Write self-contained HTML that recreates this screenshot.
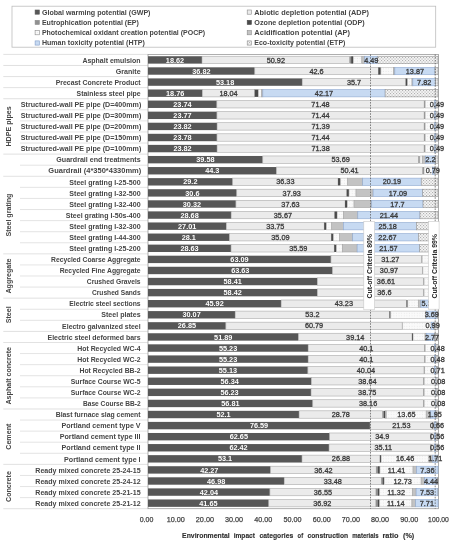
<!DOCTYPE html>
<html lang="en"><head><meta charset="utf-8"><title>Environmental impact categories of construction materials</title>
<style>html,body{margin:0;padding:0;background:#fff}svg{display:block}text{font-family:"Liberation Sans",sans-serif}.b{font-weight:bold}</style></head><body>
<svg width="454" height="550" viewBox="0 0 454 550">
<defs><pattern id="etp" width="3" height="3" patternUnits="userSpaceOnUse"><rect width="3" height="3" fill="#f4f4f4"/><rect x="0" y="0" width="1.1" height="1.1" fill="#b0b0b0"/><rect x="1.5" y="1.5" width="1.1" height="1.1" fill="#b0b0b0"/></pattern><pattern id="pocp" width="2.6" height="2.6" patternUnits="userSpaceOnUse"><rect width="2.6" height="2.6" fill="#fafafa"/><rect x="0.8" y="0.8" width="0.9" height="0.9" fill="#e8e8e8"/></pattern></defs>
<rect width="454" height="550" fill="#fff"/>
<rect x="12" y="6.2" width="423.7" height="41" fill="#fff" stroke="#bdbdbd" stroke-width="0.8"/>
<rect x="35.1" y="10.00" width="4.2" height="4.2" fill="#575757" stroke="#575757" stroke-width="0.6"/>
<text class="b" x="41.9" y="14.55" font-size="7.8" fill="#454545" textLength="108.6" lengthAdjust="spacingAndGlyphs">Global warming potential (GWP)</text>
<rect x="247.2" y="10.00" width="4.2" height="4.2" fill="#ebebeb" stroke="#8c8c8c" stroke-width="0.6"/>
<text class="b" x="254.3" y="14.55" font-size="7.8" fill="#454545" textLength="114.7" lengthAdjust="spacingAndGlyphs">Abiotic depletion potential (ADP)</text>
<rect x="35.1" y="20.30" width="4.2" height="4.2" fill="#909090" stroke="#8c8c8c" stroke-width="0.6"/>
<text class="b" x="41.9" y="24.85" font-size="7.8" fill="#454545" textLength="97" lengthAdjust="spacingAndGlyphs">Eutrophication potential (EP)</text>
<rect x="247.2" y="20.30" width="4.2" height="4.2" fill="#4a4a4a" stroke="#4a4a4a" stroke-width="0.6"/>
<text class="b" x="254.3" y="24.85" font-size="7.8" fill="#454545" textLength="110.4" lengthAdjust="spacingAndGlyphs">Ozone depletion potential (ODP)</text>
<rect x="35.1" y="30.60" width="4.2" height="4.2" fill="url(#pocp)" stroke="#8c8c8c" stroke-width="0.6"/>
<text class="b" x="41.9" y="35.15" font-size="7.8" fill="#454545" textLength="163.3" lengthAdjust="spacingAndGlyphs">Photochemical oxidant creation potential (POCP)</text>
<rect x="247.2" y="30.60" width="4.2" height="4.2" fill="#c3c3c3" stroke="#8c8c8c" stroke-width="0.6"/>
<text class="b" x="254.3" y="35.15" font-size="7.8" fill="#454545" textLength="95.8" lengthAdjust="spacingAndGlyphs">Acidification potential (AP)</text>
<rect x="35.1" y="40.90" width="4.2" height="4.2" fill="#c7daf2" stroke="#7f9cc9" stroke-width="0.6"/>
<text class="b" x="41.9" y="45.45" font-size="7.8" fill="#454545" textLength="103" lengthAdjust="spacingAndGlyphs">Human toxicity potential (HTP)</text>
<rect x="247.2" y="40.90" width="4.2" height="4.2" fill="url(#etp)" stroke="#8c8c8c" stroke-width="0.6"/>
<text class="b" x="254.3" y="45.45" font-size="7.8" fill="#454545" textLength="91.1" lengthAdjust="spacingAndGlyphs">Eco-toxicity potential (ETP)</text>
<line x1="3.3" y1="54.40" x2="148" y2="54.40" stroke="#d4d4d4" stroke-width="0.7"/>
<line x1="3.3" y1="65.48" x2="148" y2="65.48" stroke="#d4d4d4" stroke-width="0.7"/>
<line x1="3.3" y1="76.56" x2="148" y2="76.56" stroke="#d4d4d4" stroke-width="0.7"/>
<line x1="3.3" y1="87.64" x2="148" y2="87.64" stroke="#d4d4d4" stroke-width="0.7"/>
<line x1="3.3" y1="98.72" x2="148" y2="98.72" stroke="#d4d4d4" stroke-width="0.7"/>
<line x1="20" y1="109.80" x2="148" y2="109.80" stroke="#d9d9d9" stroke-width="0.7"/>
<line x1="20" y1="120.88" x2="148" y2="120.88" stroke="#d9d9d9" stroke-width="0.7"/>
<line x1="20" y1="131.96" x2="148" y2="131.96" stroke="#d9d9d9" stroke-width="0.7"/>
<line x1="20" y1="143.04" x2="148" y2="143.04" stroke="#d9d9d9" stroke-width="0.7"/>
<text class="b" transform="translate(11.2,146.54) rotate(-90)" font-size="7.8" fill="#454545" textLength="40.24" lengthAdjust="spacingAndGlyphs">HDPE pipes</text>
<line x1="3.3" y1="154.12" x2="148" y2="154.12" stroke="#d4d4d4" stroke-width="0.7"/>
<line x1="20" y1="165.20" x2="148" y2="165.20" stroke="#d9d9d9" stroke-width="0.7"/>
<line x1="3.3" y1="176.29" x2="148" y2="176.29" stroke="#d4d4d4" stroke-width="0.7"/>
<line x1="20" y1="187.37" x2="148" y2="187.37" stroke="#d9d9d9" stroke-width="0.7"/>
<line x1="20" y1="198.45" x2="148" y2="198.45" stroke="#d9d9d9" stroke-width="0.7"/>
<line x1="20" y1="209.53" x2="148" y2="209.53" stroke="#d9d9d9" stroke-width="0.7"/>
<line x1="20" y1="220.61" x2="148" y2="220.61" stroke="#d9d9d9" stroke-width="0.7"/>
<line x1="20" y1="231.69" x2="148" y2="231.69" stroke="#d9d9d9" stroke-width="0.7"/>
<line x1="20" y1="242.77" x2="148" y2="242.77" stroke="#d9d9d9" stroke-width="0.7"/>
<text class="b" transform="translate(11.2,236.57) rotate(-90)" font-size="7.8" fill="#454545" textLength="43.00" lengthAdjust="spacingAndGlyphs">Steel grating</text>
<line x1="3.3" y1="253.85" x2="148" y2="253.85" stroke="#d4d4d4" stroke-width="0.7"/>
<line x1="20" y1="264.93" x2="148" y2="264.93" stroke="#d9d9d9" stroke-width="0.7"/>
<line x1="20" y1="276.01" x2="148" y2="276.01" stroke="#d9d9d9" stroke-width="0.7"/>
<line x1="20" y1="287.09" x2="148" y2="287.09" stroke="#d9d9d9" stroke-width="0.7"/>
<text class="b" transform="translate(11.2,293.56) rotate(-90)" font-size="7.8" fill="#454545" textLength="35.11" lengthAdjust="spacingAndGlyphs">Aggregate</text>
<line x1="3.3" y1="298.17" x2="148" y2="298.17" stroke="#d4d4d4" stroke-width="0.7"/>
<line x1="20" y1="309.25" x2="148" y2="309.25" stroke="#d9d9d9" stroke-width="0.7"/>
<line x1="20" y1="320.33" x2="148" y2="320.33" stroke="#d9d9d9" stroke-width="0.7"/>
<text class="b" transform="translate(11.2,323.28) rotate(-90)" font-size="7.8" fill="#454545" textLength="16.97" lengthAdjust="spacingAndGlyphs">Steel</text>
<line x1="3.3" y1="331.41" x2="148" y2="331.41" stroke="#d4d4d4" stroke-width="0.7"/>
<line x1="3.3" y1="342.49" x2="148" y2="342.49" stroke="#d4d4d4" stroke-width="0.7"/>
<line x1="20" y1="353.57" x2="148" y2="353.57" stroke="#d9d9d9" stroke-width="0.7"/>
<line x1="20" y1="364.65" x2="148" y2="364.65" stroke="#d9d9d9" stroke-width="0.7"/>
<line x1="20" y1="375.73" x2="148" y2="375.73" stroke="#d9d9d9" stroke-width="0.7"/>
<line x1="20" y1="386.81" x2="148" y2="386.81" stroke="#d9d9d9" stroke-width="0.7"/>
<line x1="20" y1="397.90" x2="148" y2="397.90" stroke="#d9d9d9" stroke-width="0.7"/>
<text class="b" transform="translate(11.2,404.53) rotate(-90)" font-size="7.8" fill="#454545" textLength="57.60" lengthAdjust="spacingAndGlyphs">Asphalt concrete</text>
<line x1="3.3" y1="408.98" x2="148" y2="408.98" stroke="#d4d4d4" stroke-width="0.7"/>
<line x1="20" y1="420.06" x2="148" y2="420.06" stroke="#d9d9d9" stroke-width="0.7"/>
<line x1="20" y1="431.14" x2="148" y2="431.14" stroke="#d9d9d9" stroke-width="0.7"/>
<line x1="20" y1="442.22" x2="148" y2="442.22" stroke="#d9d9d9" stroke-width="0.7"/>
<line x1="20" y1="453.30" x2="148" y2="453.30" stroke="#d9d9d9" stroke-width="0.7"/>
<text class="b" transform="translate(11.2,449.70) rotate(-90)" font-size="7.8" fill="#454545" textLength="26.04" lengthAdjust="spacingAndGlyphs">Cement</text>
<line x1="3.3" y1="464.38" x2="148" y2="464.38" stroke="#d4d4d4" stroke-width="0.7"/>
<line x1="20" y1="475.46" x2="148" y2="475.46" stroke="#d9d9d9" stroke-width="0.7"/>
<line x1="20" y1="486.54" x2="148" y2="486.54" stroke="#d9d9d9" stroke-width="0.7"/>
<line x1="20" y1="497.62" x2="148" y2="497.62" stroke="#d9d9d9" stroke-width="0.7"/>
<text class="b" transform="translate(11.2,501.93) rotate(-90)" font-size="7.8" fill="#454545" textLength="30.77" lengthAdjust="spacingAndGlyphs">Concrete</text>
<line x1="3.3" y1="508.7" x2="148" y2="508.7" stroke="#d4d4d4" stroke-width="0.7"/>
<rect x="148" y="54.4" width="290.4" height="454.30" fill="none" stroke="#9a9a9a" stroke-width="0.8"/>
<text class="b" x="82.40" y="62.64" font-size="7.8" fill="#454545" textLength="58.20" lengthAdjust="spacingAndGlyphs">Asphalt emulsion</text>
<rect x="148.00" y="56.24" width="54.00" height="7.4" fill="#575757"/>
<rect x="202.00" y="56.24" width="147.67" height="7.4" fill="#ebebeb" stroke="#ababab" stroke-width="0.6"/>
<rect x="349.67" y="56.24" width="1.45" height="7.4" fill="#909090"/>
<rect x="351.12" y="56.24" width="2.32" height="7.4" fill="#4a4a4a"/>
<rect x="353.44" y="56.24" width="8.41" height="7.4" fill="url(#pocp)" stroke="#bcbcbc" stroke-width="0.6"/>
<rect x="361.85" y="56.24" width="2.90" height="7.4" fill="#c3c3c3" stroke="#a6a6a6" stroke-width="0.6"/>
<rect x="364.75" y="56.24" width="13.02" height="7.4" fill="#c7daf2" stroke="#8fa9d0" stroke-width="0.6"/>
<rect x="377.77" y="56.24" width="60.23" height="7.4" fill="url(#etp)" stroke="#959595" stroke-width="0.6"/>
<text class="b" x="115.80" y="73.72" font-size="7.8" fill="#454545" textLength="24.80" lengthAdjust="spacingAndGlyphs">Granite</text>
<rect x="148.00" y="67.32" width="106.78" height="7.4" fill="#575757"/>
<rect x="254.78" y="67.32" width="123.54" height="7.4" fill="#ebebeb" stroke="#ababab" stroke-width="0.6"/>
<rect x="378.32" y="67.32" width="2.61" height="7.4" fill="#4a4a4a"/>
<rect x="380.93" y="67.32" width="12.47" height="7.4" fill="url(#pocp)" stroke="#bcbcbc" stroke-width="0.6"/>
<rect x="393.40" y="67.32" width="1.45" height="7.4" fill="#c3c3c3" stroke="#a6a6a6" stroke-width="0.6"/>
<rect x="394.85" y="67.32" width="40.22" height="7.4" fill="#c7daf2" stroke="#8fa9d0" stroke-width="0.6"/>
<rect x="435.07" y="67.32" width="2.93" height="7.4" fill="url(#etp)" stroke="#959595" stroke-width="0.6"/>
<text class="b" x="55.70" y="84.80" font-size="7.8" fill="#454545" textLength="84.90" lengthAdjust="spacingAndGlyphs">Precast Concrete Product</text>
<rect x="148.00" y="78.40" width="154.22" height="7.4" fill="#575757"/>
<rect x="302.22" y="78.40" width="103.53" height="7.4" fill="#ebebeb" stroke="#ababab" stroke-width="0.6"/>
<rect x="405.75" y="78.40" width="1.89" height="7.4" fill="#4a4a4a"/>
<rect x="407.64" y="78.40" width="4.35" height="7.4" fill="url(#pocp)" stroke="#bcbcbc" stroke-width="0.6"/>
<rect x="411.99" y="78.40" width="0.87" height="7.4" fill="#c3c3c3" stroke="#a6a6a6" stroke-width="0.6"/>
<rect x="412.86" y="78.40" width="22.68" height="7.4" fill="#c7daf2" stroke="#8fa9d0" stroke-width="0.6"/>
<rect x="435.54" y="78.40" width="2.46" height="7.4" fill="url(#etp)" stroke="#959595" stroke-width="0.6"/>
<text class="b" x="76.60" y="95.88" font-size="7.8" fill="#454545" textLength="64.00" lengthAdjust="spacingAndGlyphs">Stainless steel pipe</text>
<rect x="148.00" y="89.48" width="54.40" height="7.4" fill="#575757"/>
<rect x="202.40" y="89.48" width="52.32" height="7.4" fill="#ebebeb" stroke="#ababab" stroke-width="0.6"/>
<rect x="254.72" y="89.48" width="3.77" height="7.4" fill="#4a4a4a"/>
<rect x="258.49" y="89.48" width="2.90" height="7.4" fill="url(#pocp)" stroke="#bcbcbc" stroke-width="0.6"/>
<rect x="261.39" y="89.48" width="1.45" height="7.4" fill="#c3c3c3" stroke="#a6a6a6" stroke-width="0.6"/>
<rect x="262.84" y="89.48" width="122.29" height="7.4" fill="#c7daf2" stroke="#8fa9d0" stroke-width="0.6"/>
<rect x="385.13" y="89.48" width="52.87" height="7.4" fill="url(#etp)" stroke="#959595" stroke-width="0.6"/>
<text class="b" x="20.80" y="106.96" font-size="7.8" fill="#454545" textLength="120.50" lengthAdjust="spacingAndGlyphs">Structured-wall PE pipe (D=400mm)</text>
<rect x="148.00" y="100.56" width="68.85" height="7.4" fill="#575757"/>
<rect x="216.85" y="100.56" width="207.29" height="7.4" fill="#ebebeb" stroke="#ababab" stroke-width="0.6"/>
<rect x="424.14" y="100.56" width="1.16" height="7.4" fill="#909090"/>
<rect x="425.30" y="100.56" width="9.43" height="7.4" fill="url(#pocp)" stroke="#bcbcbc" stroke-width="0.6"/>
<rect x="434.72" y="100.56" width="1.42" height="7.4" fill="#c7daf2" stroke="#8fa9d0" stroke-width="0.6"/>
<rect x="436.14" y="100.56" width="1.86" height="7.4" fill="url(#etp)" stroke="#959595" stroke-width="0.6"/>
<text class="b" x="20.80" y="118.04" font-size="7.8" fill="#454545" textLength="120.50" lengthAdjust="spacingAndGlyphs">Structured-wall PE pipe (D=300mm)</text>
<rect x="148.00" y="111.64" width="68.93" height="7.4" fill="#575757"/>
<rect x="216.93" y="111.64" width="207.18" height="7.4" fill="#ebebeb" stroke="#ababab" stroke-width="0.6"/>
<rect x="424.11" y="111.64" width="1.16" height="7.4" fill="#909090"/>
<rect x="425.27" y="111.64" width="9.43" height="7.4" fill="url(#pocp)" stroke="#bcbcbc" stroke-width="0.6"/>
<rect x="434.69" y="111.64" width="1.42" height="7.4" fill="#c7daf2" stroke="#8fa9d0" stroke-width="0.6"/>
<rect x="436.11" y="111.64" width="1.89" height="7.4" fill="url(#etp)" stroke="#959595" stroke-width="0.6"/>
<text class="b" x="20.80" y="129.12" font-size="7.8" fill="#454545" textLength="120.50" lengthAdjust="spacingAndGlyphs">Structured-wall PE pipe (D=200mm)</text>
<rect x="148.00" y="122.72" width="69.08" height="7.4" fill="#575757"/>
<rect x="217.08" y="122.72" width="207.03" height="7.4" fill="#ebebeb" stroke="#ababab" stroke-width="0.6"/>
<rect x="424.11" y="122.72" width="1.16" height="7.4" fill="#909090"/>
<rect x="425.27" y="122.72" width="9.43" height="7.4" fill="url(#pocp)" stroke="#bcbcbc" stroke-width="0.6"/>
<rect x="434.69" y="122.72" width="1.42" height="7.4" fill="#c7daf2" stroke="#8fa9d0" stroke-width="0.6"/>
<rect x="436.12" y="122.72" width="1.88" height="7.4" fill="url(#etp)" stroke="#959595" stroke-width="0.6"/>
<text class="b" x="20.80" y="140.20" font-size="7.8" fill="#454545" textLength="120.50" lengthAdjust="spacingAndGlyphs">Structured-wall PE pipe (D=150mm)</text>
<rect x="148.00" y="133.80" width="68.96" height="7.4" fill="#575757"/>
<rect x="216.96" y="133.80" width="207.18" height="7.4" fill="#ebebeb" stroke="#ababab" stroke-width="0.6"/>
<rect x="424.14" y="133.80" width="1.16" height="7.4" fill="#909090"/>
<rect x="425.30" y="133.80" width="9.43" height="7.4" fill="url(#pocp)" stroke="#bcbcbc" stroke-width="0.6"/>
<rect x="434.72" y="133.80" width="1.42" height="7.4" fill="#c7daf2" stroke="#8fa9d0" stroke-width="0.6"/>
<rect x="436.14" y="133.80" width="1.86" height="7.4" fill="url(#etp)" stroke="#959595" stroke-width="0.6"/>
<text class="b" x="20.80" y="151.28" font-size="7.8" fill="#454545" textLength="120.50" lengthAdjust="spacingAndGlyphs">Structured-wall PE pipe (D=100mm)</text>
<rect x="148.00" y="144.88" width="69.08" height="7.4" fill="#575757"/>
<rect x="217.08" y="144.88" width="207.00" height="7.4" fill="#ebebeb" stroke="#ababab" stroke-width="0.6"/>
<rect x="424.08" y="144.88" width="1.16" height="7.4" fill="#909090"/>
<rect x="425.24" y="144.88" width="9.43" height="7.4" fill="url(#pocp)" stroke="#bcbcbc" stroke-width="0.6"/>
<rect x="434.66" y="144.88" width="1.42" height="7.4" fill="#c7daf2" stroke="#8fa9d0" stroke-width="0.6"/>
<rect x="436.09" y="144.88" width="1.91" height="7.4" fill="url(#etp)" stroke="#959595" stroke-width="0.6"/>
<text class="b" x="56.30" y="162.36" font-size="7.8" fill="#454545" textLength="84.30" lengthAdjust="spacingAndGlyphs">Guardrail end treatments</text>
<rect x="148.00" y="155.96" width="114.78" height="7.4" fill="#575757"/>
<rect x="262.78" y="155.96" width="155.70" height="7.4" fill="#ebebeb" stroke="#ababab" stroke-width="0.6"/>
<rect x="418.48" y="155.96" width="1.45" height="7.4" fill="#909090"/>
<rect x="419.93" y="155.96" width="2.32" height="7.4" fill="url(#pocp)" stroke="#bcbcbc" stroke-width="0.6"/>
<rect x="422.25" y="155.96" width="3.33" height="7.4" fill="#c3c3c3" stroke="#a6a6a6" stroke-width="0.6"/>
<rect x="425.59" y="155.96" width="9.86" height="7.4" fill="#c7daf2" stroke="#8fa9d0" stroke-width="0.6"/>
<rect x="435.45" y="155.96" width="2.55" height="7.4" fill="url(#etp)" stroke="#959595" stroke-width="0.6"/>
<text class="b" x="48.30" y="173.45" font-size="7.8" fill="#454545" textLength="93.00" lengthAdjust="spacingAndGlyphs">Guardrail (4*350*4330mm)</text>
<rect x="148.00" y="167.05" width="128.47" height="7.4" fill="#575757"/>
<rect x="276.47" y="167.05" width="146.19" height="7.4" fill="#ebebeb" stroke="#ababab" stroke-width="0.6"/>
<rect x="422.66" y="167.05" width="1.45" height="7.4" fill="#909090"/>
<rect x="424.11" y="167.05" width="8.41" height="7.4" fill="url(#pocp)" stroke="#bcbcbc" stroke-width="0.6"/>
<rect x="432.52" y="167.05" width="2.29" height="7.4" fill="#c7daf2" stroke="#8fa9d0" stroke-width="0.6"/>
<rect x="434.81" y="167.05" width="3.19" height="7.4" fill="url(#etp)" stroke="#959595" stroke-width="0.6"/>
<text class="b" x="69.30" y="184.53" font-size="7.8" fill="#454545" textLength="71.30" lengthAdjust="spacingAndGlyphs">Steel grating I-25-500</text>
<rect x="148.00" y="178.13" width="84.68" height="7.4" fill="#575757"/>
<rect x="232.68" y="178.13" width="105.36" height="7.4" fill="#ebebeb" stroke="#ababab" stroke-width="0.6"/>
<rect x="338.04" y="178.13" width="2.61" height="7.4" fill="#4a4a4a"/>
<rect x="340.65" y="178.13" width="6.96" height="7.4" fill="url(#pocp)" stroke="#bcbcbc" stroke-width="0.6"/>
<rect x="347.61" y="178.13" width="15.08" height="7.4" fill="#c3c3c3" stroke="#a6a6a6" stroke-width="0.6"/>
<rect x="362.69" y="178.13" width="58.55" height="7.4" fill="#c7daf2" stroke="#8fa9d0" stroke-width="0.6"/>
<rect x="421.24" y="178.13" width="16.76" height="7.4" fill="url(#etp)" stroke="#959595" stroke-width="0.6"/>
<text class="b" x="69.30" y="195.61" font-size="7.8" fill="#454545" textLength="71.30" lengthAdjust="spacingAndGlyphs">Steel grating I-32-500</text>
<rect x="148.00" y="189.21" width="88.74" height="7.4" fill="#575757"/>
<rect x="236.74" y="189.21" width="110.00" height="7.4" fill="#ebebeb" stroke="#ababab" stroke-width="0.6"/>
<rect x="346.74" y="189.21" width="2.32" height="7.4" fill="#4a4a4a"/>
<rect x="349.06" y="189.21" width="6.96" height="7.4" fill="url(#pocp)" stroke="#bcbcbc" stroke-width="0.6"/>
<rect x="356.02" y="189.21" width="17.11" height="7.4" fill="#c3c3c3" stroke="#a6a6a6" stroke-width="0.6"/>
<rect x="373.13" y="189.21" width="49.56" height="7.4" fill="#c7daf2" stroke="#8fa9d0" stroke-width="0.6"/>
<rect x="422.69" y="189.21" width="15.31" height="7.4" fill="url(#etp)" stroke="#959595" stroke-width="0.6"/>
<text class="b" x="69.30" y="206.69" font-size="7.8" fill="#454545" textLength="71.30" lengthAdjust="spacingAndGlyphs">Steel grating I-32-400</text>
<rect x="148.00" y="200.29" width="87.93" height="7.4" fill="#575757"/>
<rect x="235.93" y="200.29" width="109.13" height="7.4" fill="#ebebeb" stroke="#ababab" stroke-width="0.6"/>
<rect x="345.06" y="200.29" width="2.32" height="7.4" fill="#4a4a4a"/>
<rect x="347.38" y="200.29" width="6.67" height="7.4" fill="url(#pocp)" stroke="#bcbcbc" stroke-width="0.6"/>
<rect x="354.04" y="200.29" width="17.69" height="7.4" fill="#c3c3c3" stroke="#a6a6a6" stroke-width="0.6"/>
<rect x="371.73" y="200.29" width="51.33" height="7.4" fill="#c7daf2" stroke="#8fa9d0" stroke-width="0.6"/>
<rect x="423.06" y="200.29" width="14.94" height="7.4" fill="url(#etp)" stroke="#959595" stroke-width="0.6"/>
<text class="b" x="65.80" y="217.77" font-size="7.8" fill="#454545" textLength="74.80" lengthAdjust="spacingAndGlyphs">Steel grating I-50s-400</text>
<rect x="148.00" y="211.37" width="83.17" height="7.4" fill="#575757"/>
<rect x="231.17" y="211.37" width="103.44" height="7.4" fill="#ebebeb" stroke="#ababab" stroke-width="0.6"/>
<rect x="334.62" y="211.37" width="2.61" height="7.4" fill="#4a4a4a"/>
<rect x="337.23" y="211.37" width="6.09" height="7.4" fill="url(#pocp)" stroke="#bcbcbc" stroke-width="0.6"/>
<rect x="343.31" y="211.37" width="14.50" height="7.4" fill="#c3c3c3" stroke="#a6a6a6" stroke-width="0.6"/>
<rect x="357.81" y="211.37" width="62.18" height="7.4" fill="#c7daf2" stroke="#8fa9d0" stroke-width="0.6"/>
<rect x="419.99" y="211.37" width="18.01" height="7.4" fill="url(#etp)" stroke="#959595" stroke-width="0.6"/>
<text class="b" x="69.30" y="228.85" font-size="7.8" fill="#454545" textLength="71.30" lengthAdjust="spacingAndGlyphs">Steel grating I-32-300</text>
<rect x="148.00" y="222.45" width="78.33" height="7.4" fill="#575757"/>
<rect x="226.33" y="222.45" width="97.88" height="7.4" fill="#ebebeb" stroke="#ababab" stroke-width="0.6"/>
<rect x="324.20" y="222.45" width="2.32" height="7.4" fill="#4a4a4a"/>
<rect x="326.52" y="222.45" width="5.22" height="7.4" fill="url(#pocp)" stroke="#bcbcbc" stroke-width="0.6"/>
<rect x="331.74" y="222.45" width="11.60" height="7.4" fill="#c3c3c3" stroke="#a6a6a6" stroke-width="0.6"/>
<rect x="343.34" y="222.45" width="73.02" height="7.4" fill="#c7daf2" stroke="#8fa9d0" stroke-width="0.6"/>
<rect x="416.37" y="222.45" width="21.63" height="7.4" fill="url(#etp)" stroke="#959595" stroke-width="0.6"/>
<text class="b" x="69.30" y="239.93" font-size="7.8" fill="#454545" textLength="71.30" lengthAdjust="spacingAndGlyphs">Steel grating I-44-300</text>
<rect x="148.00" y="233.53" width="81.49" height="7.4" fill="#575757"/>
<rect x="229.49" y="233.53" width="101.76" height="7.4" fill="#ebebeb" stroke="#ababab" stroke-width="0.6"/>
<rect x="331.25" y="233.53" width="2.32" height="7.4" fill="#4a4a4a"/>
<rect x="333.57" y="233.53" width="5.80" height="7.4" fill="url(#pocp)" stroke="#bcbcbc" stroke-width="0.6"/>
<rect x="339.37" y="233.53" width="13.34" height="7.4" fill="#c3c3c3" stroke="#a6a6a6" stroke-width="0.6"/>
<rect x="352.71" y="233.53" width="65.74" height="7.4" fill="#c7daf2" stroke="#8fa9d0" stroke-width="0.6"/>
<rect x="418.45" y="233.53" width="19.55" height="7.4" fill="url(#etp)" stroke="#959595" stroke-width="0.6"/>
<text class="b" x="69.30" y="251.01" font-size="7.8" fill="#454545" textLength="71.30" lengthAdjust="spacingAndGlyphs">Steel grating I-25-200</text>
<rect x="148.00" y="244.61" width="83.03" height="7.4" fill="#575757"/>
<rect x="231.03" y="244.61" width="103.21" height="7.4" fill="#ebebeb" stroke="#ababab" stroke-width="0.6"/>
<rect x="334.24" y="244.61" width="2.32" height="7.4" fill="#4a4a4a"/>
<rect x="336.56" y="244.61" width="5.80" height="7.4" fill="url(#pocp)" stroke="#bcbcbc" stroke-width="0.6"/>
<rect x="342.36" y="244.61" width="14.79" height="7.4" fill="#c3c3c3" stroke="#a6a6a6" stroke-width="0.6"/>
<rect x="357.15" y="244.61" width="62.55" height="7.4" fill="#c7daf2" stroke="#8fa9d0" stroke-width="0.6"/>
<rect x="419.70" y="244.61" width="18.30" height="7.4" fill="url(#etp)" stroke="#959595" stroke-width="0.6"/>
<text class="b" x="51.00" y="262.09" font-size="7.8" fill="#454545" textLength="89.60" lengthAdjust="spacingAndGlyphs">Recycled Coarse Aggregate</text>
<rect x="148.00" y="255.69" width="182.96" height="7.4" fill="#575757"/>
<rect x="330.96" y="255.69" width="90.68" height="7.4" fill="#ebebeb" stroke="#ababab" stroke-width="0.6"/>
<rect x="421.64" y="255.69" width="0.58" height="7.4" fill="#909090"/>
<rect x="422.22" y="255.69" width="12.76" height="7.4" fill="url(#pocp)" stroke="#bcbcbc" stroke-width="0.6"/>
<rect x="434.98" y="255.69" width="0.87" height="7.4" fill="#c7daf2" stroke="#8fa9d0" stroke-width="0.6"/>
<rect x="435.85" y="255.69" width="2.15" height="7.4" fill="url(#etp)" stroke="#959595" stroke-width="0.6"/>
<text class="b" x="59.70" y="273.17" font-size="7.8" fill="#454545" textLength="80.90" lengthAdjust="spacingAndGlyphs">Recycled Fine Aggregate</text>
<rect x="148.00" y="266.77" width="184.53" height="7.4" fill="#575757"/>
<rect x="332.53" y="266.77" width="89.81" height="7.4" fill="#ebebeb" stroke="#ababab" stroke-width="0.6"/>
<rect x="422.34" y="266.77" width="0.58" height="7.4" fill="#909090"/>
<rect x="422.92" y="266.77" width="12.18" height="7.4" fill="url(#pocp)" stroke="#bcbcbc" stroke-width="0.6"/>
<rect x="435.10" y="266.77" width="0.87" height="7.4" fill="#c7daf2" stroke="#8fa9d0" stroke-width="0.6"/>
<rect x="435.97" y="266.77" width="2.03" height="7.4" fill="url(#etp)" stroke="#959595" stroke-width="0.6"/>
<text class="b" x="86.80" y="284.25" font-size="7.8" fill="#454545" textLength="53.80" lengthAdjust="spacingAndGlyphs">Crushed Gravels</text>
<rect x="148.00" y="277.85" width="169.39" height="7.4" fill="#575757"/>
<rect x="317.39" y="277.85" width="106.17" height="7.4" fill="#ebebeb" stroke="#ababab" stroke-width="0.6"/>
<rect x="423.56" y="277.85" width="0.58" height="7.4" fill="#909090"/>
<rect x="424.14" y="277.85" width="11.02" height="7.4" fill="url(#pocp)" stroke="#bcbcbc" stroke-width="0.6"/>
<rect x="435.16" y="277.85" width="0.87" height="7.4" fill="#c7daf2" stroke="#8fa9d0" stroke-width="0.6"/>
<rect x="436.03" y="277.85" width="1.97" height="7.4" fill="url(#etp)" stroke="#959595" stroke-width="0.6"/>
<text class="b" x="92.00" y="295.33" font-size="7.8" fill="#454545" textLength="48.60" lengthAdjust="spacingAndGlyphs">Crushed Sands</text>
<rect x="148.00" y="288.93" width="169.42" height="7.4" fill="#575757"/>
<rect x="317.42" y="288.93" width="106.14" height="7.4" fill="#ebebeb" stroke="#ababab" stroke-width="0.6"/>
<rect x="423.56" y="288.93" width="0.58" height="7.4" fill="#909090"/>
<rect x="424.14" y="288.93" width="11.02" height="7.4" fill="url(#pocp)" stroke="#bcbcbc" stroke-width="0.6"/>
<rect x="435.16" y="288.93" width="0.87" height="7.4" fill="#c7daf2" stroke="#8fa9d0" stroke-width="0.6"/>
<rect x="436.03" y="288.93" width="1.97" height="7.4" fill="url(#etp)" stroke="#959595" stroke-width="0.6"/>
<text class="b" x="69.30" y="306.41" font-size="7.8" fill="#454545" textLength="71.30" lengthAdjust="spacingAndGlyphs">Electric steel sections</text>
<rect x="148.00" y="300.01" width="133.17" height="7.4" fill="#575757"/>
<rect x="281.17" y="300.01" width="125.37" height="7.4" fill="#ebebeb" stroke="#ababab" stroke-width="0.6"/>
<rect x="406.54" y="300.01" width="1.31" height="7.4" fill="#4a4a4a"/>
<rect x="407.84" y="300.01" width="10.73" height="7.4" fill="url(#pocp)" stroke="#bcbcbc" stroke-width="0.6"/>
<rect x="418.57" y="300.01" width="2.32" height="7.4" fill="#c3c3c3" stroke="#a6a6a6" stroke-width="0.6"/>
<rect x="420.89" y="300.01" width="15.51" height="7.4" fill="#c7daf2" stroke="#8fa9d0" stroke-width="0.6"/>
<rect x="436.40" y="300.01" width="1.60" height="7.4" fill="url(#etp)" stroke="#959595" stroke-width="0.6"/>
<text class="b" x="101.30" y="317.49" font-size="7.8" fill="#454545" textLength="39.30" lengthAdjust="spacingAndGlyphs">Steel plates</text>
<rect x="148.00" y="311.09" width="87.20" height="7.4" fill="#575757"/>
<rect x="235.20" y="311.09" width="154.28" height="7.4" fill="#ebebeb" stroke="#ababab" stroke-width="0.6"/>
<rect x="389.48" y="311.09" width="1.30" height="7.4" fill="#4a4a4a"/>
<rect x="390.79" y="311.09" width="34.51" height="7.4" fill="url(#pocp)" stroke="#bcbcbc" stroke-width="0.6"/>
<rect x="425.30" y="311.09" width="1.16" height="7.4" fill="#c3c3c3" stroke="#a6a6a6" stroke-width="0.6"/>
<rect x="426.46" y="311.09" width="10.70" height="7.4" fill="#c7daf2" stroke="#8fa9d0" stroke-width="0.6"/>
<rect x="437.16" y="311.09" width="0.84" height="7.4" fill="url(#etp)" stroke="#959595" stroke-width="0.6"/>
<text class="b" x="62.10" y="328.57" font-size="7.8" fill="#454545" textLength="78.50" lengthAdjust="spacingAndGlyphs">Electro galvanized steel</text>
<rect x="148.00" y="322.17" width="77.87" height="7.4" fill="#575757"/>
<rect x="225.87" y="322.17" width="176.29" height="7.4" fill="#ebebeb" stroke="#ababab" stroke-width="0.6"/>
<rect x="402.16" y="322.17" width="0.58" height="7.4" fill="#909090"/>
<rect x="402.74" y="322.17" width="28.42" height="7.4" fill="url(#pocp)" stroke="#bcbcbc" stroke-width="0.6"/>
<rect x="431.16" y="322.17" width="2.87" height="7.4" fill="#c7daf2" stroke="#8fa9d0" stroke-width="0.6"/>
<rect x="434.03" y="322.17" width="3.97" height="7.4" fill="url(#etp)" stroke="#959595" stroke-width="0.6"/>
<text class="b" x="47.50" y="339.65" font-size="7.8" fill="#454545" textLength="93.10" lengthAdjust="spacingAndGlyphs">Electric steel deformed bars</text>
<rect x="148.00" y="333.25" width="150.48" height="7.4" fill="#575757"/>
<rect x="298.48" y="333.25" width="113.51" height="7.4" fill="#ebebeb" stroke="#ababab" stroke-width="0.6"/>
<rect x="411.99" y="333.25" width="1.16" height="7.4" fill="#4a4a4a"/>
<rect x="413.15" y="333.25" width="11.89" height="7.4" fill="url(#pocp)" stroke="#bcbcbc" stroke-width="0.6"/>
<rect x="425.04" y="333.25" width="1.31" height="7.4" fill="#c3c3c3" stroke="#a6a6a6" stroke-width="0.6"/>
<rect x="426.34" y="333.25" width="8.03" height="7.4" fill="#c7daf2" stroke="#8fa9d0" stroke-width="0.6"/>
<rect x="434.38" y="333.25" width="3.62" height="7.4" fill="url(#etp)" stroke="#959595" stroke-width="0.6"/>
<text class="b" x="77.20" y="350.73" font-size="7.8" fill="#454545" textLength="63.40" lengthAdjust="spacingAndGlyphs">Hot Recycled WC-4</text>
<rect x="148.00" y="344.33" width="160.17" height="7.4" fill="#575757"/>
<rect x="308.17" y="344.33" width="116.29" height="7.4" fill="#ebebeb" stroke="#ababab" stroke-width="0.6"/>
<rect x="424.46" y="344.33" width="0.87" height="7.4" fill="#909090"/>
<rect x="425.33" y="344.33" width="9.28" height="7.4" fill="url(#pocp)" stroke="#bcbcbc" stroke-width="0.6"/>
<rect x="434.61" y="344.33" width="1.39" height="7.4" fill="#c7daf2" stroke="#8fa9d0" stroke-width="0.6"/>
<rect x="436.00" y="344.33" width="2.00" height="7.4" fill="url(#etp)" stroke="#959595" stroke-width="0.6"/>
<text class="b" x="77.20" y="361.81" font-size="7.8" fill="#454545" textLength="63.40" lengthAdjust="spacingAndGlyphs">Hot Recycled WC-2</text>
<rect x="148.00" y="355.41" width="160.17" height="7.4" fill="#575757"/>
<rect x="308.17" y="355.41" width="116.29" height="7.4" fill="#ebebeb" stroke="#ababab" stroke-width="0.6"/>
<rect x="424.46" y="355.41" width="0.87" height="7.4" fill="#909090"/>
<rect x="425.33" y="355.41" width="9.28" height="7.4" fill="url(#pocp)" stroke="#bcbcbc" stroke-width="0.6"/>
<rect x="434.61" y="355.41" width="1.39" height="7.4" fill="#c7daf2" stroke="#8fa9d0" stroke-width="0.6"/>
<rect x="436.00" y="355.41" width="2.00" height="7.4" fill="url(#etp)" stroke="#959595" stroke-width="0.6"/>
<text class="b" x="79.50" y="372.89" font-size="7.8" fill="#454545" textLength="61.10" lengthAdjust="spacingAndGlyphs">Hot Recycled BB-2</text>
<rect x="148.00" y="366.49" width="159.88" height="7.4" fill="#575757"/>
<rect x="307.88" y="366.49" width="116.12" height="7.4" fill="#ebebeb" stroke="#ababab" stroke-width="0.6"/>
<rect x="423.99" y="366.49" width="0.73" height="7.4" fill="#4a4a4a"/>
<rect x="424.72" y="366.49" width="9.57" height="7.4" fill="url(#pocp)" stroke="#bcbcbc" stroke-width="0.6"/>
<rect x="434.29" y="366.49" width="2.06" height="7.4" fill="#c7daf2" stroke="#8fa9d0" stroke-width="0.6"/>
<rect x="436.35" y="366.49" width="1.65" height="7.4" fill="url(#etp)" stroke="#959595" stroke-width="0.6"/>
<text class="b" x="70.80" y="383.97" font-size="7.8" fill="#454545" textLength="69.80" lengthAdjust="spacingAndGlyphs">Surface Course WC-5</text>
<rect x="148.00" y="377.57" width="163.39" height="7.4" fill="#575757"/>
<rect x="311.39" y="377.57" width="112.06" height="7.4" fill="#ebebeb" stroke="#ababab" stroke-width="0.6"/>
<rect x="423.44" y="377.57" width="0.87" height="7.4" fill="#909090"/>
<rect x="424.31" y="377.57" width="11.60" height="7.4" fill="url(#pocp)" stroke="#bcbcbc" stroke-width="0.6"/>
<rect x="435.91" y="377.57" width="0.23" height="7.4" fill="#c7daf2" stroke="#8fa9d0" stroke-width="0.6"/>
<rect x="436.14" y="377.57" width="1.86" height="7.4" fill="url(#etp)" stroke="#959595" stroke-width="0.6"/>
<text class="b" x="70.80" y="395.05" font-size="7.8" fill="#454545" textLength="69.80" lengthAdjust="spacingAndGlyphs">Surface Course WC-2</text>
<rect x="148.00" y="388.65" width="163.07" height="7.4" fill="#575757"/>
<rect x="311.07" y="388.65" width="112.37" height="7.4" fill="#ebebeb" stroke="#ababab" stroke-width="0.6"/>
<rect x="423.44" y="388.65" width="0.87" height="7.4" fill="#909090"/>
<rect x="424.31" y="388.65" width="11.60" height="7.4" fill="url(#pocp)" stroke="#bcbcbc" stroke-width="0.6"/>
<rect x="435.91" y="388.65" width="0.23" height="7.4" fill="#c7daf2" stroke="#8fa9d0" stroke-width="0.6"/>
<rect x="436.14" y="388.65" width="1.86" height="7.4" fill="url(#etp)" stroke="#959595" stroke-width="0.6"/>
<text class="b" x="83.00" y="406.14" font-size="7.8" fill="#454545" textLength="57.60" lengthAdjust="spacingAndGlyphs">Base Course BB-2</text>
<rect x="148.00" y="399.74" width="164.75" height="7.4" fill="#575757"/>
<rect x="312.75" y="399.74" width="110.66" height="7.4" fill="#ebebeb" stroke="#ababab" stroke-width="0.6"/>
<rect x="423.41" y="399.74" width="0.87" height="7.4" fill="#909090"/>
<rect x="424.28" y="399.74" width="11.60" height="7.4" fill="url(#pocp)" stroke="#bcbcbc" stroke-width="0.6"/>
<rect x="435.88" y="399.74" width="0.23" height="7.4" fill="#c7daf2" stroke="#8fa9d0" stroke-width="0.6"/>
<rect x="436.11" y="399.74" width="1.89" height="7.4" fill="url(#etp)" stroke="#959595" stroke-width="0.6"/>
<text class="b" x="55.70" y="417.22" font-size="7.8" fill="#454545" textLength="84.90" lengthAdjust="spacingAndGlyphs">Blast furnace slag cement</text>
<rect x="148.00" y="410.82" width="151.09" height="7.4" fill="#575757"/>
<rect x="299.09" y="410.82" width="83.46" height="7.4" fill="#ebebeb" stroke="#ababab" stroke-width="0.6"/>
<rect x="382.55" y="410.82" width="1.45" height="7.4" fill="#909090"/>
<rect x="384.00" y="410.82" width="1.45" height="7.4" fill="#4a4a4a"/>
<rect x="385.45" y="410.82" width="1.16" height="7.4" fill="#c3c3c3" stroke="#a6a6a6" stroke-width="0.6"/>
<rect x="386.61" y="410.82" width="39.59" height="7.4" fill="url(#pocp)" stroke="#bcbcbc" stroke-width="0.6"/>
<rect x="426.20" y="410.82" width="4.21" height="7.4" fill="#c3c3c3" stroke="#a6a6a6" stroke-width="0.6"/>
<rect x="430.40" y="410.82" width="5.65" height="7.4" fill="#c7daf2" stroke="#8fa9d0" stroke-width="0.6"/>
<rect x="436.06" y="410.82" width="1.94" height="7.4" fill="url(#etp)" stroke="#959595" stroke-width="0.6"/>
<text class="b" x="61.50" y="428.30" font-size="7.8" fill="#454545" textLength="79.10" lengthAdjust="spacingAndGlyphs">Portland cement type V</text>
<rect x="148.00" y="421.90" width="222.11" height="7.4" fill="#575757"/>
<rect x="370.11" y="421.90" width="62.44" height="7.4" fill="#ebebeb" stroke="#ababab" stroke-width="0.6"/>
<rect x="432.55" y="421.90" width="0.87" height="7.4" fill="#4a4a4a"/>
<rect x="433.42" y="421.90" width="1.16" height="7.4" fill="url(#pocp)" stroke="#bcbcbc" stroke-width="0.6"/>
<rect x="434.58" y="421.90" width="1.91" height="7.4" fill="#c7daf2" stroke="#8fa9d0" stroke-width="0.6"/>
<rect x="436.49" y="421.90" width="1.51" height="7.4" fill="url(#etp)" stroke="#959595" stroke-width="0.6"/>
<text class="b" x="59.70" y="439.38" font-size="7.8" fill="#454545" textLength="80.90" lengthAdjust="spacingAndGlyphs">Portland cement type III</text>
<rect x="148.00" y="432.98" width="181.69" height="7.4" fill="#575757"/>
<rect x="329.69" y="432.98" width="101.21" height="7.4" fill="#ebebeb" stroke="#ababab" stroke-width="0.6"/>
<rect x="430.89" y="432.98" width="0.87" height="7.4" fill="#4a4a4a"/>
<rect x="431.76" y="432.98" width="2.61" height="7.4" fill="url(#pocp)" stroke="#bcbcbc" stroke-width="0.6"/>
<rect x="434.38" y="432.98" width="1.62" height="7.4" fill="#c7daf2" stroke="#8fa9d0" stroke-width="0.6"/>
<rect x="436.00" y="432.98" width="2.00" height="7.4" fill="url(#etp)" stroke="#959595" stroke-width="0.6"/>
<text class="b" x="61.50" y="450.46" font-size="7.8" fill="#454545" textLength="79.10" lengthAdjust="spacingAndGlyphs">Portland cement type II</text>
<rect x="148.00" y="444.06" width="181.02" height="7.4" fill="#575757"/>
<rect x="329.02" y="444.06" width="101.82" height="7.4" fill="#ebebeb" stroke="#ababab" stroke-width="0.6"/>
<rect x="430.84" y="444.06" width="0.87" height="7.4" fill="#4a4a4a"/>
<rect x="431.71" y="444.06" width="2.61" height="7.4" fill="url(#pocp)" stroke="#bcbcbc" stroke-width="0.6"/>
<rect x="434.32" y="444.06" width="1.62" height="7.4" fill="#c7daf2" stroke="#8fa9d0" stroke-width="0.6"/>
<rect x="435.94" y="444.06" width="2.06" height="7.4" fill="url(#etp)" stroke="#959595" stroke-width="0.6"/>
<text class="b" x="64.10" y="461.54" font-size="7.8" fill="#454545" textLength="76.50" lengthAdjust="spacingAndGlyphs">Portland cement type I</text>
<rect x="148.00" y="455.14" width="153.99" height="7.4" fill="#575757"/>
<rect x="301.99" y="455.14" width="77.95" height="7.4" fill="#ebebeb" stroke="#ababab" stroke-width="0.6"/>
<rect x="379.94" y="455.14" width="1.31" height="7.4" fill="#4a4a4a"/>
<rect x="381.25" y="455.14" width="47.73" height="7.4" fill="url(#pocp)" stroke="#bcbcbc" stroke-width="0.6"/>
<rect x="428.98" y="455.14" width="3.77" height="7.4" fill="#c3c3c3" stroke="#a6a6a6" stroke-width="0.6"/>
<rect x="432.75" y="455.14" width="4.96" height="7.4" fill="#c7daf2" stroke="#8fa9d0" stroke-width="0.6"/>
<rect x="437.71" y="455.14" width="0.29" height="7.4" fill="url(#etp)" stroke="#959595" stroke-width="0.6"/>
<text class="b" x="35.30" y="472.62" font-size="7.8" fill="#454545" textLength="105.30" lengthAdjust="spacingAndGlyphs">Ready mixed concrete 25-24-15</text>
<rect x="148.00" y="466.22" width="122.58" height="7.4" fill="#575757"/>
<rect x="270.58" y="466.22" width="105.62" height="7.4" fill="#ebebeb" stroke="#ababab" stroke-width="0.6"/>
<rect x="376.20" y="466.22" width="1.74" height="7.4" fill="#909090"/>
<rect x="377.94" y="466.22" width="2.03" height="7.4" fill="#4a4a4a"/>
<rect x="379.97" y="466.22" width="33.09" height="7.4" fill="url(#pocp)" stroke="#bcbcbc" stroke-width="0.6"/>
<rect x="413.06" y="466.22" width="3.62" height="7.4" fill="#c3c3c3" stroke="#a6a6a6" stroke-width="0.6"/>
<rect x="416.68" y="466.22" width="21.34" height="7.4" fill="#c7daf2" stroke="#8fa9d0" stroke-width="0.6"/>
<rect x="438.03" y="466.22" width="-0.03" height="7.4" fill="url(#etp)" stroke="#959595" stroke-width="0.6"/>
<text class="b" x="35.30" y="483.70" font-size="7.8" fill="#454545" textLength="105.30" lengthAdjust="spacingAndGlyphs">Ready mixed concrete 25-24-12</text>
<rect x="148.00" y="477.30" width="136.24" height="7.4" fill="#575757"/>
<rect x="284.24" y="477.30" width="97.09" height="7.4" fill="#ebebeb" stroke="#ababab" stroke-width="0.6"/>
<rect x="381.33" y="477.30" width="1.16" height="7.4" fill="#909090"/>
<rect x="382.49" y="477.30" width="1.74" height="7.4" fill="#4a4a4a"/>
<rect x="384.23" y="477.30" width="36.92" height="7.4" fill="url(#pocp)" stroke="#bcbcbc" stroke-width="0.6"/>
<rect x="421.15" y="477.30" width="3.48" height="7.4" fill="#c3c3c3" stroke="#a6a6a6" stroke-width="0.6"/>
<rect x="424.63" y="477.30" width="12.88" height="7.4" fill="#c7daf2" stroke="#8fa9d0" stroke-width="0.6"/>
<rect x="437.51" y="477.30" width="0.49" height="7.4" fill="url(#etp)" stroke="#959595" stroke-width="0.6"/>
<text class="b" x="35.30" y="494.78" font-size="7.8" fill="#454545" textLength="105.30" lengthAdjust="spacingAndGlyphs">Ready mixed concrete 25-21-15</text>
<rect x="148.00" y="488.38" width="121.92" height="7.4" fill="#575757"/>
<rect x="269.92" y="488.38" width="106.00" height="7.4" fill="#ebebeb" stroke="#ababab" stroke-width="0.6"/>
<rect x="375.91" y="488.38" width="1.74" height="7.4" fill="#909090"/>
<rect x="377.65" y="488.38" width="2.03" height="7.4" fill="#4a4a4a"/>
<rect x="379.68" y="488.38" width="32.83" height="7.4" fill="url(#pocp)" stroke="#bcbcbc" stroke-width="0.6"/>
<rect x="412.51" y="488.38" width="3.62" height="7.4" fill="#c3c3c3" stroke="#a6a6a6" stroke-width="0.6"/>
<rect x="416.13" y="488.38" width="21.84" height="7.4" fill="#c7daf2" stroke="#8fa9d0" stroke-width="0.6"/>
<rect x="437.97" y="488.38" width="0.03" height="7.4" fill="url(#etp)" stroke="#959595" stroke-width="0.6"/>
<text class="b" x="35.30" y="505.86" font-size="7.8" fill="#454545" textLength="105.30" lengthAdjust="spacingAndGlyphs">Ready mixed concrete 25-21-12</text>
<rect x="148.00" y="499.46" width="120.78" height="7.4" fill="#575757"/>
<rect x="268.78" y="499.46" width="107.07" height="7.4" fill="#ebebeb" stroke="#ababab" stroke-width="0.6"/>
<rect x="375.85" y="499.46" width="1.74" height="7.4" fill="#909090"/>
<rect x="377.59" y="499.46" width="2.03" height="7.4" fill="#4a4a4a"/>
<rect x="379.62" y="499.46" width="32.31" height="7.4" fill="url(#pocp)" stroke="#bcbcbc" stroke-width="0.6"/>
<rect x="411.93" y="499.46" width="3.77" height="7.4" fill="#c3c3c3" stroke="#a6a6a6" stroke-width="0.6"/>
<rect x="415.70" y="499.46" width="22.36" height="7.4" fill="#c7daf2" stroke="#8fa9d0" stroke-width="0.6"/>
<rect x="438.06" y="499.46" width="-0.06" height="7.4" fill="url(#etp)" stroke="#959595" stroke-width="0.6"/>
<text class="b" x="175.00" y="62.54" text-anchor="middle" font-size="7.3" fill="#fff">18.62</text>
<text x="275.83" y="62.54" text-anchor="middle" font-size="7.3" fill="#3a3a3a" stroke="#3a3a3a" stroke-width="0.3">50.92</text>
<text x="371.26" y="62.54" text-anchor="middle" font-size="7.3" fill="#3a3a3a" stroke="#3a3a3a" stroke-width="0.3">4.49</text>
<text class="b" x="201.39" y="73.62" text-anchor="middle" font-size="7.3" fill="#fff">36.82</text>
<text x="316.55" y="73.62" text-anchor="middle" font-size="7.3" fill="#3a3a3a" stroke="#3a3a3a" stroke-width="0.3">42.6</text>
<text x="414.96" y="73.62" text-anchor="middle" font-size="7.3" fill="#3a3a3a" stroke="#3a3a3a" stroke-width="0.3">13.87</text>
<text class="b" x="225.11" y="84.70" text-anchor="middle" font-size="7.3" fill="#fff">53.18</text>
<text x="353.99" y="84.70" text-anchor="middle" font-size="7.3" fill="#3a3a3a" stroke="#3a3a3a" stroke-width="0.3">35.7</text>
<text x="424.20" y="84.70" text-anchor="middle" font-size="7.3" fill="#3a3a3a" stroke="#3a3a3a" stroke-width="0.3">7.82</text>
<text class="b" x="175.20" y="95.78" text-anchor="middle" font-size="7.3" fill="#fff">18.76</text>
<text x="228.56" y="95.78" text-anchor="middle" font-size="7.3" fill="#3a3a3a" stroke="#3a3a3a" stroke-width="0.3">18.04</text>
<text x="323.99" y="95.78" text-anchor="middle" font-size="7.3" fill="#3a3a3a" stroke="#3a3a3a" stroke-width="0.3">42.17</text>
<text class="b" x="182.42" y="106.86" text-anchor="middle" font-size="7.3" fill="#fff">23.74</text>
<text x="320.49" y="106.86" text-anchor="middle" font-size="7.3" fill="#3a3a3a" stroke="#3a3a3a" stroke-width="0.3">71.48</text>
<text x="436.90" y="106.86" text-anchor="middle" font-size="7.3" fill="#3a3a3a" stroke="#3a3a3a" stroke-width="0.3">0.49</text>
<text class="b" x="182.47" y="117.94" text-anchor="middle" font-size="7.3" fill="#fff">23.77</text>
<text x="320.52" y="117.94" text-anchor="middle" font-size="7.3" fill="#3a3a3a" stroke="#3a3a3a" stroke-width="0.3">71.44</text>
<text x="436.90" y="117.94" text-anchor="middle" font-size="7.3" fill="#3a3a3a" stroke="#3a3a3a" stroke-width="0.3">0.49</text>
<text class="b" x="182.54" y="129.02" text-anchor="middle" font-size="7.3" fill="#fff">23.82</text>
<text x="320.59" y="129.02" text-anchor="middle" font-size="7.3" fill="#3a3a3a" stroke="#3a3a3a" stroke-width="0.3">71.39</text>
<text x="436.90" y="129.02" text-anchor="middle" font-size="7.3" fill="#3a3a3a" stroke="#3a3a3a" stroke-width="0.3">0.49</text>
<text class="b" x="182.48" y="140.10" text-anchor="middle" font-size="7.3" fill="#fff">23.78</text>
<text x="320.55" y="140.10" text-anchor="middle" font-size="7.3" fill="#3a3a3a" stroke="#3a3a3a" stroke-width="0.3">71.44</text>
<text x="436.90" y="140.10" text-anchor="middle" font-size="7.3" fill="#3a3a3a" stroke="#3a3a3a" stroke-width="0.3">0.49</text>
<text class="b" x="182.54" y="151.18" text-anchor="middle" font-size="7.3" fill="#fff">23.82</text>
<text x="320.58" y="151.18" text-anchor="middle" font-size="7.3" fill="#3a3a3a" stroke="#3a3a3a" stroke-width="0.3">71.38</text>
<text x="436.90" y="151.18" text-anchor="middle" font-size="7.3" fill="#3a3a3a" stroke="#3a3a3a" stroke-width="0.3">0.49</text>
<text class="b" x="205.39" y="162.26" text-anchor="middle" font-size="7.3" fill="#fff">39.58</text>
<text x="340.63" y="162.26" text-anchor="middle" font-size="7.3" fill="#3a3a3a" stroke="#3a3a3a" stroke-width="0.3">53.69</text>
<text x="430.52" y="162.26" text-anchor="middle" font-size="7.3" fill="#3a3a3a" stroke="#3a3a3a" stroke-width="0.3">2.2</text>
<text class="b" x="212.24" y="173.35" text-anchor="middle" font-size="7.3" fill="#fff">44.3</text>
<text x="349.56" y="173.35" text-anchor="middle" font-size="7.3" fill="#3a3a3a" stroke="#3a3a3a" stroke-width="0.3">50.41</text>
<text x="432.80" y="173.35" text-anchor="middle" font-size="7.3" fill="#3a3a3a" stroke="#3a3a3a" stroke-width="0.3">0.79</text>
<text class="b" x="190.34" y="184.43" text-anchor="middle" font-size="7.3" fill="#fff">29.2</text>
<text x="285.36" y="184.43" text-anchor="middle" font-size="7.3" fill="#3a3a3a" stroke="#3a3a3a" stroke-width="0.3">36.33</text>
<text x="391.96" y="184.43" text-anchor="middle" font-size="7.3" fill="#3a3a3a" stroke="#3a3a3a" stroke-width="0.3">20.19</text>
<text class="b" x="192.37" y="195.51" text-anchor="middle" font-size="7.3" fill="#fff">30.6</text>
<text x="291.74" y="195.51" text-anchor="middle" font-size="7.3" fill="#3a3a3a" stroke="#3a3a3a" stroke-width="0.3">37.93</text>
<text x="397.91" y="195.51" text-anchor="middle" font-size="7.3" fill="#3a3a3a" stroke="#3a3a3a" stroke-width="0.3">17.09</text>
<text class="b" x="191.96" y="206.59" text-anchor="middle" font-size="7.3" fill="#fff">30.32</text>
<text x="290.49" y="206.59" text-anchor="middle" font-size="7.3" fill="#3a3a3a" stroke="#3a3a3a" stroke-width="0.3">37.63</text>
<text x="397.40" y="206.59" text-anchor="middle" font-size="7.3" fill="#3a3a3a" stroke="#3a3a3a" stroke-width="0.3">17.7</text>
<text class="b" x="189.59" y="217.67" text-anchor="middle" font-size="7.3" fill="#fff">28.68</text>
<text x="282.89" y="217.67" text-anchor="middle" font-size="7.3" fill="#3a3a3a" stroke="#3a3a3a" stroke-width="0.3">35.67</text>
<text x="388.90" y="217.67" text-anchor="middle" font-size="7.3" fill="#3a3a3a" stroke="#3a3a3a" stroke-width="0.3">21.44</text>
<text class="b" x="187.16" y="228.75" text-anchor="middle" font-size="7.3" fill="#fff">27.01</text>
<text x="275.27" y="228.75" text-anchor="middle" font-size="7.3" fill="#3a3a3a" stroke="#3a3a3a" stroke-width="0.3">33.75</text>
<text x="387.70" y="228.75" text-anchor="middle" font-size="7.3" fill="#3a3a3a" stroke="#3a3a3a" stroke-width="0.3">25.18</text>
<text class="b" x="188.75" y="239.83" text-anchor="middle" font-size="7.3" fill="#fff">28.1</text>
<text x="280.37" y="239.83" text-anchor="middle" font-size="7.3" fill="#3a3a3a" stroke="#3a3a3a" stroke-width="0.3">35.09</text>
<text x="387.50" y="239.83" text-anchor="middle" font-size="7.3" fill="#3a3a3a" stroke="#3a3a3a" stroke-width="0.3">22.67</text>
<text class="b" x="189.51" y="250.91" text-anchor="middle" font-size="7.3" fill="#fff">28.63</text>
<text x="298.30" y="250.91" text-anchor="middle" font-size="7.3" fill="#3a3a3a" stroke="#3a3a3a" stroke-width="0.3">35.59</text>
<text x="388.42" y="250.91" text-anchor="middle" font-size="7.3" fill="#3a3a3a" stroke="#3a3a3a" stroke-width="0.3">21.57</text>
<text class="b" x="239.48" y="261.99" text-anchor="middle" font-size="7.3" fill="#fff">63.09</text>
<text x="390.30" y="261.99" text-anchor="middle" font-size="7.3" fill="#3a3a3a" stroke="#3a3a3a" stroke-width="0.3">31.27</text>
<text class="b" x="240.26" y="273.07" text-anchor="middle" font-size="7.3" fill="#fff">63.63</text>
<text x="389.00" y="273.07" text-anchor="middle" font-size="7.3" fill="#3a3a3a" stroke="#3a3a3a" stroke-width="0.3">30.97</text>
<text class="b" x="232.69" y="284.15" text-anchor="middle" font-size="7.3" fill="#fff">58.41</text>
<text x="386.00" y="284.15" text-anchor="middle" font-size="7.3" fill="#3a3a3a" stroke="#3a3a3a" stroke-width="0.3">36.61</text>
<text class="b" x="232.71" y="295.23" text-anchor="middle" font-size="7.3" fill="#fff">58.42</text>
<text x="384.40" y="295.23" text-anchor="middle" font-size="7.3" fill="#3a3a3a" stroke="#3a3a3a" stroke-width="0.3">36.6</text>
<text class="b" x="214.58" y="306.31" text-anchor="middle" font-size="7.3" fill="#fff">45.92</text>
<text x="343.85" y="306.31" text-anchor="middle" font-size="7.3" fill="#3a3a3a" stroke="#3a3a3a" stroke-width="0.3">43.23</text>
<text x="428.65" y="306.31" text-anchor="middle" font-size="7.3" fill="#3a3a3a" stroke="#3a3a3a" stroke-width="0.3">5.35</text>
<text class="b" x="191.60" y="317.39" text-anchor="middle" font-size="7.3" fill="#fff">30.07</text>
<text x="312.34" y="317.39" text-anchor="middle" font-size="7.3" fill="#3a3a3a" stroke="#3a3a3a" stroke-width="0.3">53.2</text>
<text x="431.81" y="317.39" text-anchor="middle" font-size="7.3" fill="#3a3a3a" stroke="#3a3a3a" stroke-width="0.3">3.69</text>
<text class="b" x="186.93" y="328.47" text-anchor="middle" font-size="7.3" fill="#fff">26.85</text>
<text x="314.01" y="328.47" text-anchor="middle" font-size="7.3" fill="#3a3a3a" stroke="#3a3a3a" stroke-width="0.3">60.79</text>
<text x="432.59" y="328.47" text-anchor="middle" font-size="7.3" fill="#3a3a3a" stroke="#3a3a3a" stroke-width="0.3">0.99</text>
<text class="b" x="223.24" y="339.55" text-anchor="middle" font-size="7.3" fill="#fff">51.89</text>
<text x="355.23" y="339.55" text-anchor="middle" font-size="7.3" fill="#3a3a3a" stroke="#3a3a3a" stroke-width="0.3">39.14</text>
<text x="432.00" y="339.55" text-anchor="middle" font-size="7.3" fill="#3a3a3a" stroke="#3a3a3a" stroke-width="0.3">2.77</text>
<text class="b" x="228.08" y="350.63" text-anchor="middle" font-size="7.3" fill="#fff">55.23</text>
<text x="366.31" y="350.63" text-anchor="middle" font-size="7.3" fill="#3a3a3a" stroke="#3a3a3a" stroke-width="0.3">40.1</text>
<text x="437.60" y="350.63" text-anchor="middle" font-size="7.3" fill="#3a3a3a" stroke="#3a3a3a" stroke-width="0.3">0.48</text>
<text class="b" x="228.08" y="361.71" text-anchor="middle" font-size="7.3" fill="#fff">55.23</text>
<text x="366.31" y="361.71" text-anchor="middle" font-size="7.3" fill="#3a3a3a" stroke="#3a3a3a" stroke-width="0.3">40.1</text>
<text x="437.60" y="361.71" text-anchor="middle" font-size="7.3" fill="#3a3a3a" stroke="#3a3a3a" stroke-width="0.3">0.48</text>
<text class="b" x="227.94" y="372.79" text-anchor="middle" font-size="7.3" fill="#fff">55.13</text>
<text x="365.94" y="372.79" text-anchor="middle" font-size="7.3" fill="#3a3a3a" stroke="#3a3a3a" stroke-width="0.3">40.04</text>
<text x="437.60" y="372.79" text-anchor="middle" font-size="7.3" fill="#3a3a3a" stroke="#3a3a3a" stroke-width="0.3">0.71</text>
<text class="b" x="229.69" y="383.87" text-anchor="middle" font-size="7.3" fill="#fff">56.34</text>
<text x="367.41" y="383.87" text-anchor="middle" font-size="7.3" fill="#3a3a3a" stroke="#3a3a3a" stroke-width="0.3">38.64</text>
<text x="438.20" y="383.87" text-anchor="middle" font-size="7.3" fill="#3a3a3a" stroke="#3a3a3a" stroke-width="0.3">0.08</text>
<text class="b" x="229.53" y="394.95" text-anchor="middle" font-size="7.3" fill="#fff">56.23</text>
<text x="367.25" y="394.95" text-anchor="middle" font-size="7.3" fill="#3a3a3a" stroke="#3a3a3a" stroke-width="0.3">38.75</text>
<text x="438.20" y="394.95" text-anchor="middle" font-size="7.3" fill="#3a3a3a" stroke="#3a3a3a" stroke-width="0.3">0.08</text>
<text class="b" x="230.37" y="406.04" text-anchor="middle" font-size="7.3" fill="#fff">56.81</text>
<text x="368.08" y="406.04" text-anchor="middle" font-size="7.3" fill="#3a3a3a" stroke="#3a3a3a" stroke-width="0.3">38.16</text>
<text x="438.20" y="406.04" text-anchor="middle" font-size="7.3" fill="#3a3a3a" stroke="#3a3a3a" stroke-width="0.3">0.08</text>
<text class="b" x="223.55" y="417.12" text-anchor="middle" font-size="7.3" fill="#fff">52.1</text>
<text x="340.82" y="417.12" text-anchor="middle" font-size="7.3" fill="#3a3a3a" stroke="#3a3a3a" stroke-width="0.3">28.78</text>
<text x="406.40" y="417.12" text-anchor="middle" font-size="7.3" fill="#3a3a3a" stroke="#3a3a3a" stroke-width="0.3">13.65</text>
<text x="434.80" y="417.12" text-anchor="middle" font-size="7.3" fill="#3a3a3a" stroke="#3a3a3a" stroke-width="0.3">1.95</text>
<text class="b" x="259.06" y="428.20" text-anchor="middle" font-size="7.3" fill="#fff">76.59</text>
<text x="401.33" y="428.20" text-anchor="middle" font-size="7.3" fill="#3a3a3a" stroke="#3a3a3a" stroke-width="0.3">21.53</text>
<text x="437.00" y="428.20" text-anchor="middle" font-size="7.3" fill="#3a3a3a" stroke="#3a3a3a" stroke-width="0.3">0.66</text>
<text class="b" x="238.84" y="439.28" text-anchor="middle" font-size="7.3" fill="#fff">62.65</text>
<text x="382.30" y="439.28" text-anchor="middle" font-size="7.3" fill="#3a3a3a" stroke="#3a3a3a" stroke-width="0.3">34.9</text>
<text x="437.20" y="439.28" text-anchor="middle" font-size="7.3" fill="#3a3a3a" stroke="#3a3a3a" stroke-width="0.3">0.56</text>
<text class="b" x="238.51" y="450.36" text-anchor="middle" font-size="7.3" fill="#fff">62.42</text>
<text x="383.30" y="450.36" text-anchor="middle" font-size="7.3" fill="#3a3a3a" stroke="#3a3a3a" stroke-width="0.3">35.11</text>
<text x="437.20" y="450.36" text-anchor="middle" font-size="7.3" fill="#3a3a3a" stroke="#3a3a3a" stroke-width="0.3">0.56</text>
<text class="b" x="225.00" y="461.44" text-anchor="middle" font-size="7.3" fill="#fff">53.1</text>
<text x="340.97" y="461.44" text-anchor="middle" font-size="7.3" fill="#3a3a3a" stroke="#3a3a3a" stroke-width="0.3">26.88</text>
<text x="405.11" y="461.44" text-anchor="middle" font-size="7.3" fill="#3a3a3a" stroke="#3a3a3a" stroke-width="0.3">16.46</text>
<text x="435.23" y="461.44" text-anchor="middle" font-size="7.3" fill="#3a3a3a" stroke="#3a3a3a" stroke-width="0.3">1.71</text>
<text class="b" x="209.29" y="472.52" text-anchor="middle" font-size="7.3" fill="#fff">42.27</text>
<text x="323.39" y="472.52" text-anchor="middle" font-size="7.3" fill="#3a3a3a" stroke="#3a3a3a" stroke-width="0.3">36.42</text>
<text x="396.52" y="472.52" text-anchor="middle" font-size="7.3" fill="#3a3a3a" stroke="#3a3a3a" stroke-width="0.3">11.41</text>
<text x="427.36" y="472.52" text-anchor="middle" font-size="7.3" fill="#3a3a3a" stroke="#3a3a3a" stroke-width="0.3">7.36</text>
<text class="b" x="216.12" y="483.60" text-anchor="middle" font-size="7.3" fill="#fff">46.98</text>
<text x="332.79" y="483.60" text-anchor="middle" font-size="7.3" fill="#3a3a3a" stroke="#3a3a3a" stroke-width="0.3">33.48</text>
<text x="402.69" y="483.60" text-anchor="middle" font-size="7.3" fill="#3a3a3a" stroke="#3a3a3a" stroke-width="0.3">12.73</text>
<text x="431.07" y="483.60" text-anchor="middle" font-size="7.3" fill="#3a3a3a" stroke="#3a3a3a" stroke-width="0.3">4.44</text>
<text class="b" x="208.96" y="494.68" text-anchor="middle" font-size="7.3" fill="#fff">42.04</text>
<text x="322.91" y="494.68" text-anchor="middle" font-size="7.3" fill="#3a3a3a" stroke="#3a3a3a" stroke-width="0.3">36.55</text>
<text x="396.10" y="494.68" text-anchor="middle" font-size="7.3" fill="#3a3a3a" stroke="#3a3a3a" stroke-width="0.3">11.32</text>
<text x="427.05" y="494.68" text-anchor="middle" font-size="7.3" fill="#3a3a3a" stroke="#3a3a3a" stroke-width="0.3">7.53</text>
<text class="b" x="208.39" y="505.76" text-anchor="middle" font-size="7.3" fill="#fff">41.65</text>
<text x="322.32" y="505.76" text-anchor="middle" font-size="7.3" fill="#3a3a3a" stroke="#3a3a3a" stroke-width="0.3">36.92</text>
<text x="395.78" y="505.76" text-anchor="middle" font-size="7.3" fill="#3a3a3a" stroke="#3a3a3a" stroke-width="0.3">11.14</text>
<text x="426.88" y="505.76" text-anchor="middle" font-size="7.3" fill="#3a3a3a" stroke="#3a3a3a" stroke-width="0.3">7.71</text>
<line x1="370.5" y1="54.4" x2="370.5" y2="508.7" stroke="#555" stroke-width="0.7" stroke-dasharray="1.6,1.2"/>
<line x1="435.2" y1="54.4" x2="435.2" y2="508.7" stroke="#555" stroke-width="0.7" stroke-dasharray="1.6,1.2"/>
<rect x="363.8" y="221.6" width="10.8" height="88.2" fill="#fff" stroke="#c8c8c8" stroke-width="0.6"/>
<text class="b" transform="translate(372.3,266.3) rotate(-90)" text-anchor="middle" font-size="7.9" fill="#262626" textLength="64.6" lengthAdjust="spacingAndGlyphs">Cut-off Criteria 80%</text>
<rect x="428.6" y="221.6" width="10.5" height="87.6" fill="#fff" stroke="#c8c8c8" stroke-width="0.6"/>
<text class="b" transform="translate(436.6,266.3) rotate(-90)" text-anchor="middle" font-size="7.9" fill="#262626" textLength="64.6" lengthAdjust="spacingAndGlyphs">Cut-off Criteria 99%</text>
<text x="146.50" y="522" text-anchor="middle" font-size="8" fill="#404040" stroke="#404040" stroke-width="0.25" textLength="13.6" lengthAdjust="spacingAndGlyphs">0.00</text>
<text x="175.70" y="522" text-anchor="middle" font-size="8" fill="#404040" stroke="#404040" stroke-width="0.25" textLength="18.1" lengthAdjust="spacingAndGlyphs">10.00</text>
<text x="204.90" y="522" text-anchor="middle" font-size="8" fill="#404040" stroke="#404040" stroke-width="0.25" textLength="18.1" lengthAdjust="spacingAndGlyphs">20.00</text>
<text x="234.10" y="522" text-anchor="middle" font-size="8" fill="#404040" stroke="#404040" stroke-width="0.25" textLength="18.1" lengthAdjust="spacingAndGlyphs">30.00</text>
<text x="263.30" y="522" text-anchor="middle" font-size="8" fill="#404040" stroke="#404040" stroke-width="0.25" textLength="18.1" lengthAdjust="spacingAndGlyphs">40.00</text>
<text x="292.50" y="522" text-anchor="middle" font-size="8" fill="#404040" stroke="#404040" stroke-width="0.25" textLength="18.1" lengthAdjust="spacingAndGlyphs">50.00</text>
<text x="321.70" y="522" text-anchor="middle" font-size="8" fill="#404040" stroke="#404040" stroke-width="0.25" textLength="18.1" lengthAdjust="spacingAndGlyphs">60.00</text>
<text x="350.90" y="522" text-anchor="middle" font-size="8" fill="#404040" stroke="#404040" stroke-width="0.25" textLength="18.1" lengthAdjust="spacingAndGlyphs">70.00</text>
<text x="380.10" y="522" text-anchor="middle" font-size="8" fill="#404040" stroke="#404040" stroke-width="0.25" textLength="18.1" lengthAdjust="spacingAndGlyphs">80.00</text>
<text x="409.30" y="522" text-anchor="middle" font-size="8" fill="#404040" stroke="#404040" stroke-width="0.25" textLength="18.1" lengthAdjust="spacingAndGlyphs">90.00</text>
<text x="438.50" y="522" text-anchor="middle" font-size="8" fill="#404040" stroke="#404040" stroke-width="0.25" textLength="20.8" lengthAdjust="spacingAndGlyphs">100.00</text>
<text class="b" y="538.4" font-size="8" fill="#303030" stroke="#303030" stroke-width="0.15"><tspan x="182.1" textLength="47.6" lengthAdjust="spacingAndGlyphs">Environmental</tspan> <tspan x="233.7" textLength="21.2" lengthAdjust="spacingAndGlyphs">impact</tspan> <tspan x="259.5" textLength="33.7" lengthAdjust="spacingAndGlyphs">categories</tspan> <tspan x="297.6" textLength="5.5" lengthAdjust="spacingAndGlyphs">of</tspan> <tspan x="307.5" textLength="40.7" lengthAdjust="spacingAndGlyphs">construction</tspan> <tspan x="352.2" textLength="26.4" lengthAdjust="spacingAndGlyphs">materials</tspan> <tspan x="382.5" textLength="15.9" lengthAdjust="spacingAndGlyphs">ratio</tspan> <tspan x="403" textLength="11.3" lengthAdjust="spacingAndGlyphs">(%)</tspan></text>
</svg></body></html>
